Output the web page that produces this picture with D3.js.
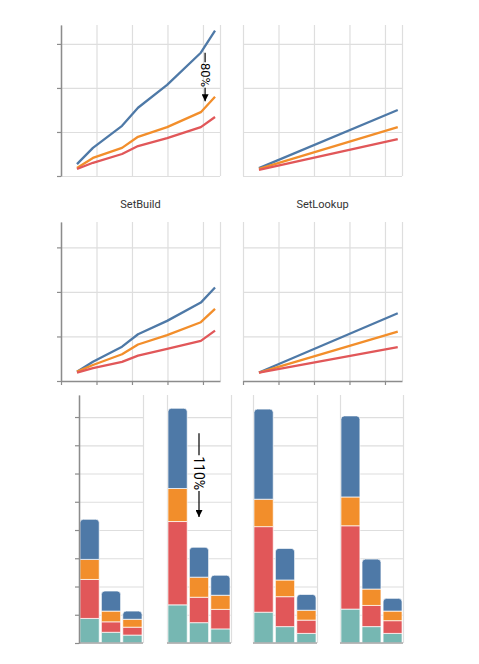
<!DOCTYPE html>
<html>
<head>
<meta charset="utf-8">
<script src="https://cdn.jsdelivr.net/npm/d3@7"></script>
<style>
	body { margin: 0; background: #fff; }
	svg { display: block; font-family: Roboto, "Noto Sans", sans-serif; }
</style>
</head>
<body>
<svg id="chart" width="479" height="664"></svg>
<script>
	// ---- data ----
	const lineX = [0.45, 0.9, 1.72, 2.17, 2.99, 3.94, 4.34];
	const lookupX = [0.45, 4.36];

	// top row
	const topBuildBlue   = [0.27, 0.64, 1.14, 1.55, 2.07, 2.80, 3.30];
	const topBuildOrange = [0.18, 0.41, 0.64, 0.89, 1.11, 1.45, 1.80];
	const topBuildRed    = [0.16, 0.30, 0.50, 0.68, 0.86, 1.11, 1.34];
	const topLookupBlue   = [0.18, 1.50];
	const topLookupOrange = [0.16, 1.11];
	const topLookupRed    = [0.14, 0.84];

	// middle row
	const midBuildBlue   = [0.21, 0.43, 0.77, 1.05, 1.35, 1.76, 2.10];
	const midBuildOrange = [0.21, 0.36, 0.60, 0.82, 1.03, 1.32, 1.62];
	const midBuildRed    = [0.19, 0.29, 0.43, 0.57, 0.72, 0.90, 1.13];
	const midLookupBlue   = [0.19, 1.52];
	const midLookupOrange = [0.19, 1.11];
	const midLookupRed    = [0.19, 0.76];

	const panelTitles = ["SetBuild", "SetLookup"];
	const lineTicksX = [0, 1, 2, 3, 4];
	const lineTicksY = [0, 1, 2, 3];

	// bottom row: 4 groups x 3 bars, stacked from the bottom
	const barTeal   = [[0.87, 0.38, 0.28], [1.35, 0.72, 0.50], [1.09, 0.58, 0.34], [1.20, 0.58, 0.34]];
	const barRed    = [[1.38, 0.37, 0.28], [2.95, 0.90, 0.69], [3.03, 1.06, 0.47], [2.95, 0.75, 0.45]];
	const barOrange = [[0.71, 0.38, 0.28], [1.17, 0.71, 0.50], [0.97, 0.59, 0.35], [1.02, 0.58, 0.34]];
	const barBlue   = [[1.42, 0.71, 0.29], [2.84, 1.06, 0.71], [3.19, 1.12, 0.56], [2.87, 1.06, 0.45]];
	const barTicksY = [0, 1, 2, 3, 4, 5, 6, 7, 8];

	const notes = [
		{ label: "80%", x: 4.06, from: 2.80, to: 1.70 },
		{ label: "110%", x: 1, from: 7.43, to: 4.46 }
	];

	const colBlue = "#4e79a7", colOrange = "#f28e2b", colRed = "#e15759", colTeal = "#76b7b2";
	const gridCol = "#dedede", axisCol = "#8c8c8c";

	const svg = d3.select("#chart");

	svg.append("defs").append("marker")
		.attr("id", "arrow")
		.attr("viewBox", "0 0 10 10")
		.attr("refX", 10).attr("refY", 5)
		.attr("markerWidth", 8).attr("markerHeight", 7)
		.attr("markerUnits", "userSpaceOnUse")
		.attr("orient", "auto")
		.append("path").attr("d", "M0,0L10,5L0,10z").attr("fill", "#000");

	function styleGrid(sel) {
		sel.select(".domain").remove();
		sel.selectAll("line").attr("stroke", gridCol).attr("stroke-width", 1.2);
	}
	function styleAxis(sel) {
		sel.select(".domain").attr("stroke", axisCol).attr("stroke-width", 1.5);
		sel.selectAll("line").attr("stroke", axisCol).attr("stroke-width", 1.2);
	}

	// ---- line panels ----
	function linePanel(o) {
		const g = svg.append("g");
		const x = d3.scaleLinear().domain([0, 4.48]).range([o.x0, o.x1]);
		const y = d3.scaleLinear().domain([0, o.yMax]).range([o.yb, o.yt]);
		const h = o.yb - o.yt, w = o.x1 - o.x0;

		g.append("g").attr("transform", `translate(0,${o.yb})`)
			.call(d3.axisBottom(x).tickValues(lineTicksX.concat([4.48])).tickSize(-h).tickFormat(""))
			.call(styleGrid);
		g.append("g").attr("transform", `translate(${o.x0},0)`)
			.call(d3.axisLeft(y).tickValues(lineTicksY).tickSize(-w).tickFormat(""))
			.call(styleGrid);

		if (o.darkLeft) {
			g.append("g").attr("transform", `translate(${o.x0},0)`)
				.call(d3.axisLeft(y).tickValues(lineTicksY).tickSize(4).tickSizeOuter(0).tickFormat(""))
				.call(styleAxis);
		}
		if (o.darkBottom) {
			g.append("g").attr("transform", `translate(0,${o.yb})`)
				.call(d3.axisBottom(x).tickValues(lineTicksX).tickSize(4).tickSizeOuter(0).tickFormat(""))
				.call(styleAxis);
		}

		const line = d3.line().x((d, i) => x(o.xs[i])).y(d => y(d));
		o.series.forEach((s, i) => {
			g.append("path").datum(s)
				.attr("fill", "none")
				.attr("stroke", o.colors[i])
				.attr("stroke-width", 2.3)
				.attr("stroke-linejoin", "round")
				.attr("d", line);
		});

		if (o.title) {
			g.append("text").attr("x", (o.x0 + o.x1) / 2).attr("y", o.yt - 14)
				.attr("text-anchor", "middle").attr("font-size", 11).attr("fill", "#333")
				.text(o.title);
		}
		if (o.note) drawNote(g, o.note, x, y, 13);
	}

	function drawNote(g, n, x, y, fs) {
		const ax = x(n.x), y1 = y(n.from), y2 = y(n.to);
		const tLen = n.label.length * fs * 0.6;
		const mid = (y1 + y2) / 2 - 2;
		g.append("line").attr("x1", ax).attr("x2", ax).attr("y1", y1).attr("y2", mid - tLen / 2 - 1)
			.attr("stroke", "#000").attr("stroke-width", 1.2);
		g.append("line").attr("x1", ax).attr("x2", ax).attr("y1", mid + tLen / 2 + 1).attr("y2", y2)
			.attr("stroke", "#000").attr("stroke-width", 1.2).attr("marker-end", "url(#arrow)");
		g.append("text")
			.attr("transform", `translate(${ax},${mid}) rotate(90)`)
			.attr("text-anchor", "middle").attr("dy", "0.35em")
			.attr("font-size", fs).attr("fill", "#000")
			.text(n.label);
	}

	const cols3 = [colBlue, colOrange, colRed];
	linePanel({ x0: 61, x1: 220, yt: 25, yb: 176, yMax: 3.43, xs: lineX,
		series: [topBuildBlue, topBuildOrange, topBuildRed], colors: cols3, darkLeft: true, note: notes[0] });
	linePanel({ x0: 243, x1: 402, yt: 25, yb: 176, yMax: 3.43, xs: lookupX,
		series: [topLookupBlue, topLookupOrange, topLookupRed], colors: cols3 });
	linePanel({ x0: 61, x1: 220, yt: 222, yb: 381, yMax: 3.57, xs: lineX, title: panelTitles[0],
		series: [midBuildBlue, midBuildOrange, midBuildRed], colors: cols3, darkLeft: true, darkBottom: true });
	linePanel({ x0: 243, x1: 402, yt: 222, yb: 381, yMax: 3.57, xs: lookupX, title: panelTitles[1],
		series: [midLookupBlue, midLookupOrange, midLookupRed], colors: cols3, darkBottom: true });

	// ---- stacked bars ----
	const barPanels = [[79, 143], [167, 231], [253, 317], [340, 403]];
	const yBar = d3.scaleLinear().domain([0, 8.78]).range([643, 395]);
	const segKeys = ["teal", "red", "orange", "blue"];
	const segCols = { teal: colTeal, red: colRed, orange: colOrange, blue: colBlue };
	const stack = d3.stack().keys(segKeys);

	function roundTop(x, y0, w, h, r) {
		r = Math.min(r, h, w / 2);
		return `M${x},${y0 + h}V${y0 + r}Q${x},${y0} ${x + r},${y0}H${x + w - r}Q${x + w},${y0} ${x + w},${y0 + r}V${y0 + h}Z`;
	}

	barPanels.forEach((p, pi) => {
		const g = svg.append("g");
		const xb = d3.scaleBand().domain([0, 1, 2]).range(p).paddingInner(0.1).paddingOuter(0.045);
		const xe = d3.scaleLinear().domain([0, 1]).range(p);

		g.append("g").attr("transform", `translate(${p[0]},0)`)
			.call(d3.axisLeft(yBar).tickValues(barTicksY).tickSize(-(p[1] - p[0])).tickFormat(""))
			.call(styleGrid);
		g.append("g").attr("transform", "translate(0,395)")
			.call(d3.axisBottom(xe).tickValues([0, 1]).tickSize(643 - 395).tickFormat(""))
			.call(styleGrid);

		const rows = [0, 1, 2].map(b => ({
			teal: barTeal[pi][b], red: barRed[pi][b], orange: barOrange[pi][b], blue: barBlue[pi][b]
		}));
		const layers = stack(rows);
		layers.forEach(layer => {
			layer.forEach((d, b) => {
				const yTop = yBar(d[1]), hh = yBar(d[0]) - yBar(d[1]);
				const isTop = layer.key === "blue";
				g.append("path")
					.attr("d", isTop ? roundTop(xb(b), yTop, xb.bandwidth(), hh, 3.5)
						: `M${xb(b)},${yTop}h${xb.bandwidth()}v${hh}h${-xb.bandwidth()}Z`)
					.attr("fill", segCols[layer.key])
					.attr("stroke", "#fff").attr("stroke-width", 0.7);
			});
		});

		g.append("line").attr("x1", p[0]).attr("x2", p[1]).attr("y1", 643).attr("y2", 643)
			.attr("stroke", "#a8a8a8").attr("stroke-width", 1.5);

		if (pi === 0) {
			g.append("g").attr("transform", `translate(${p[0]},0)`)
				.call(d3.axisLeft(yBar).tickValues(barTicksY).tickSize(4).tickSizeOuter(0).tickFormat(""))
				.call(styleAxis);
		}
		if (pi === 1) {
			const xn = d3.scaleLinear().domain([0, 2]).range([xb(0) + xb.bandwidth() / 2, xb(2) + xb.bandwidth() / 2]);
			drawNote(g, notes[1], xn, yBar, 14);
		}
	});
</script>
</body>
</html>
